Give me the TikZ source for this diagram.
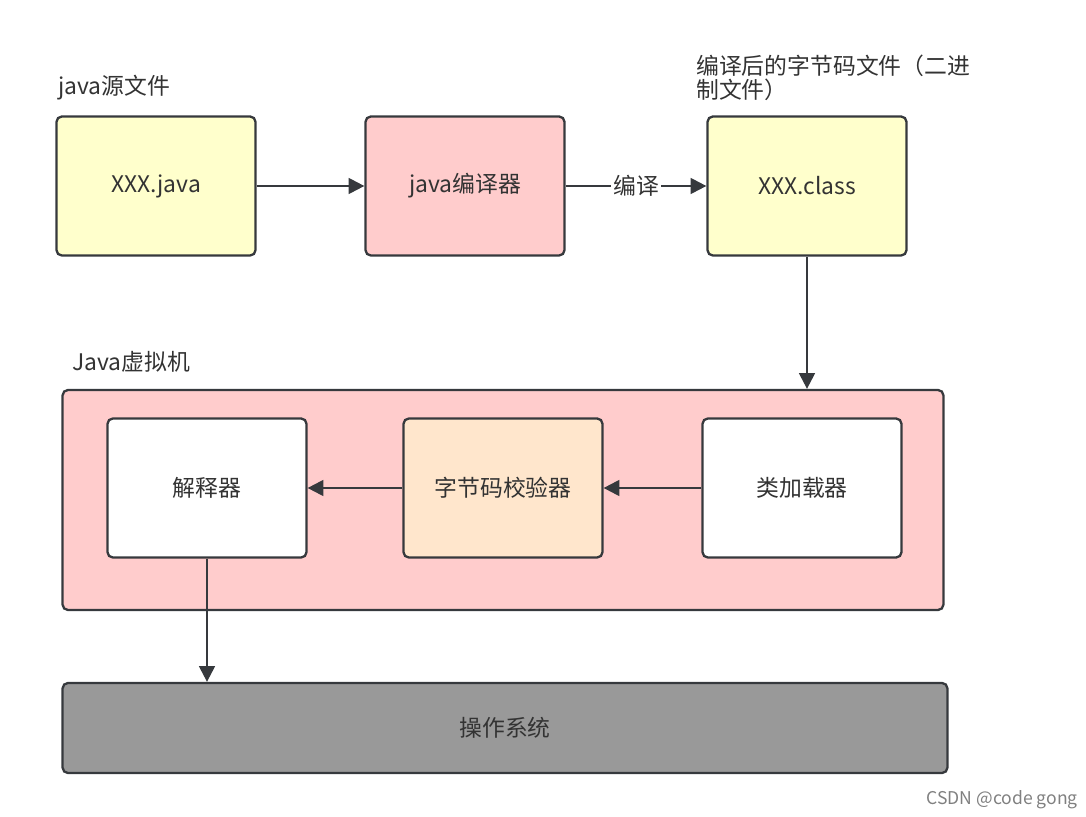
\documentclass[tikz,border=0pt]{standalone}
\usepackage{fontspec}
\setmainfont{Noto Sans CJK SC}
\usetikzlibrary{arrows.meta}
\definecolor{yellowfill}{HTML}{FFFFCC}
\definecolor{pinkfill}{HTML}{FFCCCC}
\definecolor{peachfill}{HTML}{FFE6CC}
\definecolor{osfill}{HTML}{999999}
\definecolor{edgecol}{HTML}{36393D}
\definecolor{textcol}{HTML}{333333}

\begin{document}
\begin{tikzpicture}[x=0.02cm, y=-0.02cm,
  box/.style={draw=edgecol, line width=1.3pt, rounded corners=3pt, text=textcol,
    minimum width=3.98cm, minimum height=2.78cm, font=\fontsize{13}{16}\selectfont},
  lbl/.style={anchor=west, text=textcol, font=\fontsize{13}{16}\selectfont, align=left},
  arr/.style={-{Triangle[length=9pt,width=9pt]}, draw=edgecol, line width=1.3pt}]
  \useasboundingbox (0,0) rectangle (1086,817);

  \node[box, fill=pinkfill, minimum width=17.62cm, minimum height=4.4cm] (jvm) at (503,500) {};
  \node[box, fill=yellowfill] (src) at (156,186) {XXX.java};
  \node[box, fill=pinkfill] (javac) at (465,186) {java编译器};
  \node[box, fill=yellowfill] (cls) at (807,186) {XXX.class};
  \node[box, fill=white] (interp) at (207,488) {解释器};
  \node[box, fill=peachfill] (verify) at (503,488) {字节码校验器};
  \node[box, fill=white] (loader) at (802,488) {类加载器};
  \node[box, fill=osfill, minimum width=17.7cm, minimum height=1.8cm] (os) at (505,728) {操作系统};

  \node[lbl] (srclbl) at (52,88) {java源文件};
  \node[lbl] (clslbl) at (690,78) {编译后的字节码文件（二进\\[-2pt]制文件）};
  \node[lbl] (jvmlbl) at (66,362) {Java虚拟机};
  \node[anchor=east, text=gray, font=\fontsize{10}{12}\selectfont] (mark) at (1084,800) {CSDN @code gong};

  \draw[arr] (src) -- (javac);
  \draw[arr] (javac) -- node[fill=white, text=textcol, inner sep=1pt, font=\fontsize{13}{16}\selectfont] {编译} (cls);
  \draw[arr] (cls.south) -- (cls.south |- jvm.north);
  \draw[arr] (loader) -- (verify);
  \draw[arr] (verify) -- (interp);
  \draw[arr] (interp.south) -- (interp.south |- os.north);
\end{tikzpicture}
\end{document}
